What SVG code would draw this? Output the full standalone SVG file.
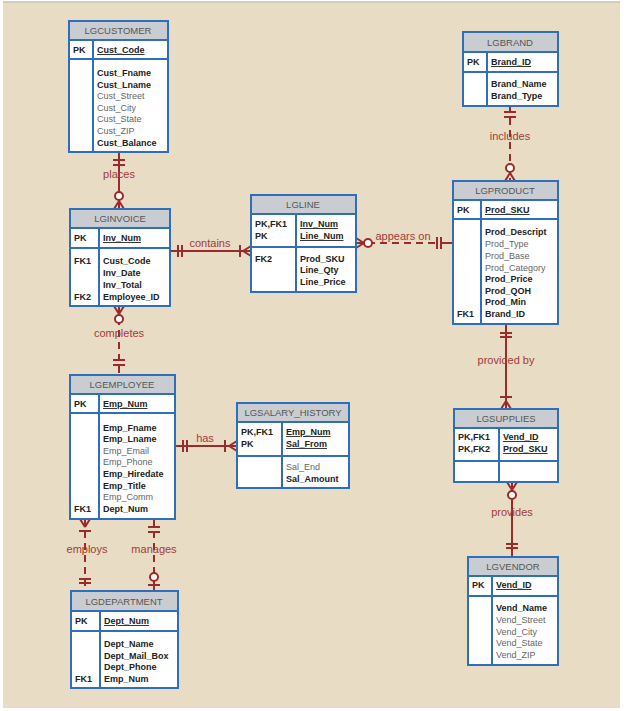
<svg xmlns="http://www.w3.org/2000/svg" width="624" height="711" viewBox="0 0 624 711">
<style>
.bx{fill:#fff;stroke:#2F6EBA;stroke-width:2}
.hd{fill:#C9CDD1;stroke:#2F6EBA;stroke-width:2}
.dv{stroke:#2F6EBA;stroke-width:2;fill:none}
text{font-family:"Liberation Sans",Arial,sans-serif;font-size:9px}
.t{fill:#555;text-anchor:middle;font-size:9.5px}
.b{font-weight:bold;fill:#222}
.l{fill:#666}
.u{text-decoration:underline}
.c{stroke:#9B2A2A;stroke-width:2;fill:none}
.d{stroke-dasharray:7,5}
.cf{fill:#fff;stroke:#9B2A2A;stroke-width:2}
.lb{fill:#A33A3A;font-size:11px;text-anchor:middle}
</style>
<rect x="0" y="0" width="624" height="711" fill="#fff"/>
<rect x="3" y="3" width="617" height="705" fill="#E8DCC4"/>
<line x1="3" y1="2" x2="620" y2="2" stroke="#A8A070" stroke-width="1"/>

<g id="connectors">
<!-- places -->
<path class="c" d="M119 152V209M113 160H125M113 165H125M119 201L114 209M119 201L124 209"/>
<circle class="cf" cx="119" cy="196" r="4"/>
<text class="lb" x="119" y="178">places</text>
<!-- contains -->
<path class="c" d="M170 251H251M178 245V257M182 245V257M240 245V257M243 251L251 246M243 251L251 256"/>
<text class="lb" x="210" y="247">contains</text>
<!-- appears on -->
<path class="c d" d="M368 243H453"/>
<path class="c" d="M356 243H364M364 243L356 238M364 243L356 248M437 237V249M441 237V249M445 243H453"/>
<circle class="cf" cx="368" cy="243" r="4"/>
<text class="lb" x="403" y="240">appears on</text>
<!-- includes -->
<path class="c d" d="M510 106V181"/>
<path class="c" d="M504 112H516M504 117H516M510 173L505 181M510 173L515 181"/>
<circle class="cf" cx="510" cy="168" r="4"/>
<text class="lb" x="510" y="140">includes</text>
<!-- completes -->
<path class="c d" d="M119 306V375"/>
<path class="c" d="M119 314L114 306M119 314L124 306M113 360H125M113 365H125"/>
<circle class="cf" cx="119" cy="319" r="4"/>
<text class="lb" x="119" y="337">completes</text>
<!-- has -->
<path class="c" d="M175 446H237M183 440V452M187 440V452M225 440V452M229 446L237 441M229 446L237 451"/>
<text class="lb" x="205" y="442">has</text>
<!-- employs -->
<path class="c d" d="M85 519V591"/>
<path class="c" d="M85 527L80 519M85 527L90 519M85 519V527M79 531H91M79 579H91M79 583H91"/>
<text class="lb" x="87" y="553">employs</text>
<!-- manages -->
<path class="c d" d="M154 519V591"/>
<path class="c" d="M148 527H160M148 532H160M148 585H160M154 585V591"/>
<circle class="cf" cx="154" cy="577" r="4"/>
<text class="lb" x="154" y="553">manages</text>
<!-- provided by -->
<path class="c" d="M506 324V409M500 333H512M500 337H512M500 397H512M506 401L501 409M506 401L511 409"/>
<text class="lb" x="506" y="364">provided by</text>
<!-- provides -->
<path class="c" d="M512 482V557M512 490L507 482M512 490L517 482M506 544H518M506 548H518"/>
<circle class="cf" cx="512" cy="495" r="4"/>
<text class="lb" x="512" y="516">provides</text>
</g>

<g id="LGCUSTOMER">
<rect class="bx" x="69" y="21" width="99" height="131"/>
<rect class="hd" x="69" y="21" width="99" height="19"/>
<path class="dv" d="M69 59H168M93 40V152"/>
<text class="t" x="118" y="34">LGCUSTOMER</text>
<text class="b" x="73" y="53">PK</text>
<text class="b u" x="97" y="53">Cust_Code</text>
<text class="b" x="97" y="76">Cust_Fname</text>
<text class="b" x="97" y="88">Cust_Lname</text>
<text class="l" x="97" y="99">Cust_Street</text>
<text class="l" x="97" y="111">Cust_City</text>
<text class="l" x="97" y="122">Cust_State</text>
<text class="l" x="97" y="134">Cust_ZIP</text>
<text class="b" x="97" y="146">Cust_Balance</text>
</g>

<g id="LGINVOICE">
<rect class="bx" x="70" y="209" width="100" height="97"/>
<rect class="hd" x="70" y="209" width="100" height="19"/>
<path class="dv" d="M70 248H170M99 228V306"/>
<text class="t" x="120" y="222">LGINVOICE</text>
<text class="b" x="74" y="241">PK</text>
<text class="b u" x="103" y="241">Inv_Num</text>
<text class="b" x="74" y="264">FK1</text>
<text class="b" x="103" y="264">Cust_Code</text>
<text class="b" x="103" y="276">Inv_Date</text>
<text class="b" x="103" y="288">Inv_Total</text>
<text class="b" x="74" y="300">FK2</text>
<text class="b" x="103" y="300">Employee_ID</text>
</g>

<g id="LGLINE">
<rect class="bx" x="251" y="195" width="105" height="97"/>
<rect class="hd" x="251" y="195" width="105" height="19"/>
<path class="dv" d="M251 247H356M296 214V292"/>
<text class="t" x="303" y="208">LGLINE</text>
<text class="b" x="255" y="227">PK,FK1</text>
<text class="b" x="255" y="239">PK</text>
<text class="b u" x="300" y="227">Inv_Num</text>
<text class="b u" x="300" y="239">Line_Num</text>
<text class="b" x="255" y="262">FK2</text>
<text class="b" x="300" y="262">Prod_SKU</text>
<text class="b" x="300" y="273">Line_Qty</text>
<text class="b" x="300" y="285">Line_Price</text>
</g>

<g id="LGBRAND">
<rect class="bx" x="463" y="32" width="95" height="74"/>
<rect class="hd" x="463" y="32" width="95" height="20"/>
<path class="dv" d="M463 72H558M487 52V106"/>
<text class="t" x="510" y="46">LGBRAND</text>
<text class="b" x="467" y="65">PK</text>
<text class="b u" x="491" y="65">Brand_ID</text>
<text class="b" x="491" y="87">Brand_Name</text>
<text class="b" x="491" y="99">Brand_Type</text>
</g>

<g id="LGPRODUCT">
<rect class="bx" x="453" y="181" width="105" height="143"/>
<rect class="hd" x="453" y="181" width="105" height="19"/>
<path class="dv" d="M453 219H558M481 200V324"/>
<text class="t" x="505" y="194">LGPRODUCT</text>
<text class="b" x="457" y="213">PK</text>
<text class="b u" x="485" y="213">Prod_SKU</text>
<text class="b" x="485" y="235">Prod_Descript</text>
<text class="l" x="485" y="247">Prod_Type</text>
<text class="l" x="485" y="259">Prod_Base</text>
<text class="l" x="485" y="271">Prod_Category</text>
<text class="b" x="485" y="282">Prod_Price</text>
<text class="b" x="485" y="294">Prod_QOH</text>
<text class="b" x="485" y="305">Prod_Min</text>
<text class="b" x="457" y="317">FK1</text>
<text class="b" x="485" y="317">Brand_ID</text>
</g>

<g id="LGEMPLOYEE">
<rect class="bx" x="70" y="375" width="105" height="144"/>
<rect class="hd" x="70" y="375" width="105" height="19"/>
<path class="dv" d="M70 413H175M99 394V519"/>
<text class="t" x="122" y="388">LGEMPLOYEE</text>
<text class="b" x="74" y="407">PK</text>
<text class="b u" x="103" y="407">Emp_Num</text>
<text class="b" x="103" y="431">Emp_Fname</text>
<text class="b" x="103" y="442">Emp_Lname</text>
<text class="l" x="103" y="454">Emp_Email</text>
<text class="l" x="103" y="465">Emp_Phone</text>
<text class="b" x="103" y="477">Emp_Hiredate</text>
<text class="b" x="103" y="489">Emp_Title</text>
<text class="l" x="103" y="500">Emp_Comm</text>
<text class="b" x="74" y="512">FK1</text>
<text class="b" x="103" y="512">Dept_Num</text>
</g>

<g id="LGSALARY_HISTORY">
<rect class="bx" x="237" y="403" width="112" height="85"/>
<rect class="hd" x="237" y="403" width="112" height="19"/>
<path class="dv" d="M237 456H349M282 422V488"/>
<text class="t" x="293" y="416">LGSALARY_HISTORY</text>
<text class="b" x="241" y="435">PK,FK1</text>
<text class="b" x="241" y="447">PK</text>
<text class="b u" x="286" y="435">Emp_Num</text>
<text class="b u" x="286" y="447">Sal_From</text>
<text class="l" x="286" y="470">Sal_End</text>
<text class="b" x="286" y="482">Sal_Amount</text>
</g>

<g id="LGDEPARTMENT">
<rect class="bx" x="71" y="591" width="107" height="97"/>
<rect class="hd" x="71" y="591" width="107" height="20"/>
<path class="dv" d="M71 631H178M100 611V688"/>
<text class="t" x="124" y="605">LGDEPARTMENT</text>
<text class="b" x="75" y="624">PK</text>
<text class="b u" x="104" y="624">Dept_Num</text>
<text class="b" x="104" y="647">Dept_Name</text>
<text class="b" x="104" y="659">Dept_Mail_Box</text>
<text class="b" x="104" y="670">Dept_Phone</text>
<text class="b" x="75" y="682">FK1</text>
<text class="b" x="104" y="682">Emp_Num</text>
</g>

<g id="LGSUPPLIES">
<rect class="bx" x="454" y="409" width="104" height="73"/>
<rect class="hd" x="454" y="409" width="104" height="19"/>
<path class="dv" d="M454 461H558M499 428V482"/>
<text class="t" x="506" y="422">LGSUPPLIES</text>
<text class="b" x="458" y="440">PK,FK1</text>
<text class="b" x="458" y="452">PK,FK2</text>
<text class="b u" x="503" y="440">Vend_ID</text>
<text class="b u" x="503" y="452">Prod_SKU</text>
</g>

<g id="LGVENDOR">
<rect class="bx" x="468" y="557" width="90" height="108"/>
<rect class="hd" x="468" y="557" width="90" height="19"/>
<path class="dv" d="M468 596H558M492 576V665"/>
<text class="t" x="513" y="570">LGVENDOR</text>
<text class="b" x="472" y="588">PK</text>
<text class="b u" x="496" y="588">Vend_ID</text>
<text class="b" x="496" y="611">Vend_Name</text>
<text class="l" x="496" y="623">Vend_Street</text>
<text class="l" x="496" y="635">Vend_City</text>
<text class="l" x="496" y="646">Vend_State</text>
<text class="l" x="496" y="658">Vend_ZIP</text>
</g>
</svg>
